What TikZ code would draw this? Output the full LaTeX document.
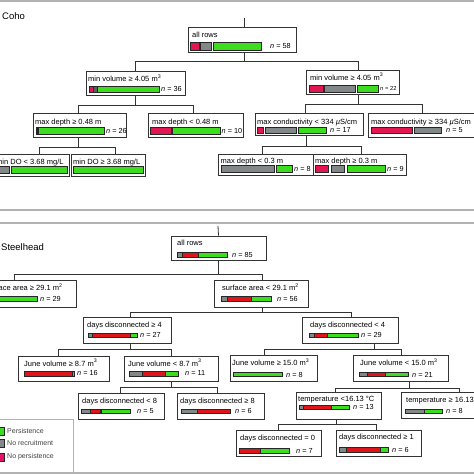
\documentclass[tikz,border=0pt]{standalone}
\usepackage{fontspec}
\setmainfont{Liberation Sans}
\usetikzlibrary{positioning}
\definecolor{cgreen}{RGB}{60,220,30}
\definecolor{cgray}{RGB}{130,135,135}
\definecolor{cpink}{RGB}{226,22,80}
\definecolor{cred}{RGB}{222,22,28}
\tikzset{tbox/.style = {draw=black!80, line width=0.8pt, inner sep=0pt}}
\tikzset{lbl/.style = {anchor=base west, inner sep=0pt, font=\fontsize{7.5}{9}\selectfont}}
\tikzset{cnt/.style = {anchor=base west, inner sep=0pt, font=\fontsize{7.3}{9}\selectfont}}
\tikzset{seg/.style = {draw=black!85, line width=0.5pt}}
\tikzset{edge/.style = {draw=black!80, line width=0.8pt}}
\tikzset{frame/.style = {draw=gray!60, line width=1.4pt}}
\tikzset{title/.style = {anchor=west, inner sep=0pt, font=\fontsize{9.5}{11}\selectfont}}
\tikzset{leg/.style = {anchor=west, inner sep=0pt, text=black!75, font=\fontsize{7}{8}\selectfont}}
\newcommand{\nn}[1]{\textit{n} = #1}

\begin{document}
\begin{tikzpicture}[x=1pt, y=-1pt]
  \useasboundingbox (0,0) rectangle (474,474);

  \draw[frame, line width=2pt] (0,1) -- (474,1);
  \draw[frame] (0,210) -- (474,210);
  \draw[frame] (0,223) -- (474,223);
  \draw[frame, line width=2pt] (0,473) -- (474,473);

  %% Coho tree
  \node[title] (cohoTitle) at (2,16) {Coho};
  \coordinate (cTop) at (244,18);

  \node[tbox, minimum width=108pt, minimum height=25pt] (cRoot) at (242,39.5) {};
  \node[lbl] (cRootL) at (192,37) {all rows};
  \draw[seg, fill=cpink] (190,42) rectangle (199,50);
  \draw[seg, fill=cgray] (200,42) rectangle (211,50);
  \draw[seg, fill=cgreen] (213,42) rectangle (261,50);
  \node[cnt] (cRootN) at (270,48.7) {\nn{58}};

  \node[tbox, minimum width=99pt, minimum height=24pt] (cVolA) at (135.5,83) {};
  \node[lbl] (cVolAL) at (88,81.5) {min volume ≥ 4.05 m\textsuperscript{3}};
  \draw[seg, fill=cpink] (89,86) rectangle (93,92);
  \draw[seg, fill=cgray!70!black] (93,86) rectangle (97,92);
  \draw[seg, fill=cgreen] (97,86) rectangle (159,92);
  \node[cnt] (cVolAN) at (161,91.5) {\nn{36}};

  \node[tbox, minimum width=93pt, minimum height=24pt] (cVolB) at (352.5,82) {};
  \node[lbl] (cVolBL) at (310,80) {min volume ≥ 4.05 m\textsuperscript{3}};
  \draw[seg, fill=cpink] (309,85) rectangle (323,92);
  \draw[seg, fill=cgray] (324,85) rectangle (355,92);
  \draw[seg, fill=cgreen] (357,85) rectangle (378,92);
  \node[cnt, font=\fontsize{5.8}{7}\selectfont] (cVolBN) at (380,90.7) {\nn{22}};

  \node[tbox, minimum width=93pt, minimum height=24pt] (cDepA) at (79.5,125) {};
  \node[lbl] (cDepAL) at (35,124.4) {max depth ≥ 0.48 m};
  \draw[seg, fill=cgray] (36,127) rectangle (37.5,134);
  \draw[seg, fill=cgreen] (38,127) rectangle (104,134);
  \node[cnt] (cDepAN) at (106,133) {\nn{26}};

  \node[tbox, minimum width=95pt, minimum height=24pt] (cDepB) at (195.5,125) {};
  \node[lbl] (cDepBL) at (152,124.4) {max depth < 0.48 m};
  \draw[seg, fill=cpink] (150,127) rectangle (171,134);
  \draw[seg, fill=cgreen] (172,127) rectangle (220,134);
  \node[cnt] (cDepBN) at (221.5,133) {\nn{10}};

  \node[tbox, minimum width=108pt, minimum height=22pt] (cCondA) at (309,124) {};
  \node[lbl] (cCondAL) at (257,124.4) {max conductivity < 334 \textit{µ}S/cm};
  \draw[seg, fill=cpink] (257,127) rectangle (263,133);
  \draw[seg, fill=cgray] (265,127) rectangle (296,133);
  \draw[seg, fill=cgreen] (298,127) rectangle (326,133);
  \node[cnt] (cCondAN) at (330,132.7) {\nn{17}};

  \node[tbox, minimum width=110pt, minimum height=24pt] (cCondB) at (423,125) {};
  \node[lbl] (cCondBL) at (371,124.2) {max conductivity ≥ 334 \textit{µ}S/cm};
  \draw[seg, fill=cpink] (371,127) rectangle (412,133);
  \draw[seg, fill=cgray] (414,127) rectangle (441,133);
  \node[cnt] (cCondBN) at (446,132.7) {\nn{5}};

  \node[tbox, minimum width=95pt, minimum height=21pt] (cShalA) at (265.5,164.5) {};
  \node[lbl] (cShalAL) at (220.5,163.5) {max depth < 0.3 m};
  \draw[seg, fill=cgray] (221,165) rectangle (274,172);
  \draw[seg, fill=cgreen] (276,165) rectangle (292,172);
  \node[cnt] (cShalAN) at (294,171) {\nn{8}};

  \node[tbox, minimum width=93pt, minimum height=21pt] (cShalB) at (359.5,164.5) {};
  \node[lbl] (cShalBL) at (315,163.5) {max depth ≥ 0.3 m};
  \draw[seg, fill=cpink] (315,165) rectangle (328,172);
  \draw[seg, fill=cgray] (331,165) rectangle (344,172);
  \draw[seg, fill=cgreen] (347,165) rectangle (385,172);
  \node[cnt] (cShalBN) at (387,171) {\nn{9}};

  \node[tbox, minimum width=76pt, minimum height=22pt] (cDoA) at (31,165) {};
  \node[lbl] (cDoAL) at (-4,164) {min DO < 3.68 mg/L};
  \draw[seg, fill=cgray] (-3,166) rectangle (9,173);
  \draw[seg, fill=cgreen] (11,166) rectangle (67,173);

  \node[tbox, minimum width=74pt, minimum height=22pt] (cDoB) at (108,165) {};
  \node[lbl] (cDoBL) at (73,164) {min DO ≥ 3.68 mg/L};
  \draw[seg, fill=cgreen] (73,166) rectangle (143,173);

  \draw[edge] (cTop) -- ([xshift=2pt]cRoot.north);
  \draw[edge] ([xshift=2pt]cRoot.south) -- ++(0,9) -| (cVolA.north);
  \draw[edge] ([xshift=2pt]cRoot.south) -- ++(0,9) -| ([xshift=5.5pt]cVolB.north);
  \draw[edge] (cVolA.south) -- ++(0,10) -| ([xshift=-1.5pt]cDepA.north);
  \draw[edge] (cVolA.south) -- ++(0,10) -| ([xshift=-2.5pt]cDepB.north);
  \draw[edge] ([xshift=5.5pt]cVolB.south) -- ++(0,10) -| ([xshift=-4pt]cCondA.north);
  \draw[edge] ([xshift=5.5pt]cVolB.south) -- ++(0,10) -| ([xshift=-1pt]cCondB.north);
  \draw[edge] ([xshift=-1.5pt]cDepA.south) -- ++(0,10) -| ([xshift=8pt]cDoA.north);
  \draw[edge] ([xshift=-1.5pt]cDepA.south) -- ++(0,10) -| ([xshift=7pt]cDoB.north);
  \draw[edge] ([xshift=-3pt]cCondA.south) -- ++(0,11) -| ([xshift=-3.5pt]cShalA.north);
  \draw[edge] ([xshift=-3pt]cCondA.south) -- ++(0,11) -| ([xshift=1.5pt]cShalB.north);

  %% Steelhead tree
  \node[title] (steelTitle) at (1,247) {Steelhead};
  \coordinate (sTop) at (218,226);

  \node[tbox, minimum width=95pt, minimum height=24pt] (sRoot) at (218.5,248) {};
  \node[lbl] (sRootL) at (177,245) {all rows};
  \draw[seg, fill=cgray] (177,252) rectangle (182,257);
  \draw[seg, fill=cred] (182,252) rectangle (198,257);
  \draw[seg, fill=cgreen] (198,252) rectangle (227,257);
  \node[cnt] (sRootN) at (232,257.2) {\nn{85}};

  \node[tbox, minimum width=93pt, minimum height=27pt] (sAreaA) at (29.5,293.5) {};
  \node[lbl] (sAreaAL) at (-14,290.3) {surface area ≥ 29.1 m\textsuperscript{2}};
  \draw[seg, fill=cgreen] (-13,296) rectangle (37,301);
  \node[cnt] (sAreaAN) at (40,301.7) {\nn{29}};

  \node[tbox, minimum width=94pt, minimum height=27pt] (sAreaB) at (261,293.5) {};
  \node[lbl] (sAreaBL) at (222,290.3) {surface area < 29.1 m\textsuperscript{2}};
  \draw[seg, fill=cgray] (221,296) rectangle (227,301);
  \draw[seg, fill=cred] (227,296) rectangle (251,301);
  \draw[seg, fill=cgreen] (251,296) rectangle (271,301);
  \node[cnt] (sAreaBN) at (277,301.7) {\nn{56}};

  \node[tbox, minimum width=88pt, minimum height=26pt] (sDaysA) at (127,330) {};
  \node[lbl] (sDaysAL) at (87,327.5) {days disconnected ≥ 4};
  \draw[seg, fill=cgray] (88,333) rectangle (92,337.5);
  \draw[seg, fill=cred] (92,333) rectangle (130,337.5);
  \draw[seg, fill=cgreen] (130,333) rectangle (137,337.5);
  \node[cnt] (sDaysAN) at (140,337.7) {\nn{27}};

  \node[tbox, minimum width=96pt, minimum height=26pt] (sDaysB) at (350,330) {};
  \node[lbl] (sDaysBL) at (310,327.5) {days disconnected < 4};
  \draw[seg, fill=cgray] (309,333) rectangle (314,337.5);
  \draw[seg, fill=cred] (314,333) rectangle (327,337.5);
  \draw[seg, fill=cgreen] (327,333) rectangle (358,337.5);
  \node[cnt] (sDaysBN) at (361,337.7) {\nn{29}};

  \node[tbox, minimum width=91pt, minimum height=25pt] (sJuneA) at (63.5,368.5) {};
  \node[lbl] (sJuneAL) at (24,366) {June volume ≥ 8.7 m\textsuperscript{3}};
  \draw[seg, fill=cred] (24,371) rectangle (72,376);
  \draw[seg, fill=cgreen] (72,371) rectangle (74,376);
  \node[cnt] (sJuneAN) at (77,375.7) {\nn{16}};

  \node[tbox, minimum width=94pt, minimum height=25pt] (sJuneB) at (171,368.5) {};
  \node[lbl] (sJuneBL) at (128,366) {June volume < 8.7 m\textsuperscript{3}};
  \draw[seg, fill=cgray] (129,371) rectangle (142,376);
  \draw[seg, fill=cred] (142,371) rectangle (165,376);
  \draw[seg, fill=cgreen] (165,371) rectangle (178,376);
  \node[cnt] (sJuneBN) at (185,375.7) {\nn{11}};

  \node[tbox, minimum width=87pt, minimum height=26pt] (sJuneC) at (273.5,368) {};
  \node[lbl] (sJuneCL) at (232,365.5) {June volume ≥ 15.0 m\textsuperscript{3}};
  \draw[seg, fill=cgreen] (233,372) rectangle (282,376.5);
  \node[cnt] (sJuneCN) at (286,377) {\nn{8}};

  \node[tbox, minimum width=95pt, minimum height=26pt] (sJuneD) at (400.5,368) {};
  \node[lbl] (sJuneDL) at (360,365.5) {June volume < 15.0 m\textsuperscript{3}};
  \draw[seg, fill=cgray] (359,372) rectangle (367,376.5);
  \draw[seg, fill=cred] (367,372) rectangle (385,376.5);
  \draw[seg, fill=cgreen] (385,372) rectangle (408,376.5);
  \node[cnt] (sJuneDN) at (412,377) {\nn{21}};

  \node[tbox, minimum width=86pt, minimum height=26pt] (sDaysC) at (121,406) {};
  \node[lbl] (sDaysCL) at (82,403) {days disconnected < 8};
  \draw[seg, fill=cgray] (81,409) rectangle (90,413);
  \draw[seg, fill=cred] (90,409) rectangle (100,413);
  \draw[seg, fill=cgreen] (101,409) rectangle (130,413);
  \node[cnt] (sDaysCN) at (137,413.7) {\nn{5}};

  \node[tbox, minimum width=87pt, minimum height=26pt] (sDaysD) at (220.5,406) {};
  \node[lbl] (sDaysDL) at (180,403) {days disconnected ≥ 8};
  \draw[seg, fill=cgray] (181,409) rectangle (197,413);
  \draw[seg, fill=cred] (197,409) rectangle (230,413);
  \node[cnt] (sDaysDN) at (235,413.7) {\nn{6}};

  \node[tbox, minimum width=85pt, minimum height=27pt] (sTempA) at (338.5,405.5) {};
  \node[lbl] (sTempAL) at (298,401) {temperature <16.13 °C};
  \draw[seg, fill=cgray] (299,405) rectangle (303,409);
  \draw[seg, fill=cred] (303,405) rectangle (331,409);
  \draw[seg, fill=cgreen] (331,405) rectangle (349,409);
  \node[cnt] (sTempAN) at (353,409.7) {\nn{13}};

  \node[tbox, minimum width=119pt, minimum height=26pt] (sTempB) at (460.5,405) {};
  \node[lbl] (sTempBL) at (406,402) {temperature ≥ 16.13 °C};
  \draw[seg, fill=cgray] (405,409) rectangle (424,413);
  \draw[seg, fill=cgreen] (424,409) rectangle (442,413);
  \node[cnt] (sTempBN) at (446,413.5) {\nn{8}};

  \node[tbox, minimum width=85pt, minimum height=26pt] (sDaysE) at (278.5,443) {};
  \node[lbl] (sDaysEL) at (240,440) {days disconnected = 0};
  \draw[seg, fill=cred] (239,448) rectangle (260,453);
  \draw[seg, fill=cgreen] (260,448) rectangle (289,453);
  \node[cnt] (sDaysEN) at (296,453) {\nn{7}};

  \node[tbox, minimum width=85pt, minimum height=26pt] (sDaysF) at (378.5,443) {};
  \node[lbl] (sDaysFL) at (339,439) {days disconnected ≥ 1};
  \draw[seg, fill=cgray] (339,447) rectangle (346,452);
  \draw[seg, fill=cred] (346,447) rectangle (380,452);
  \draw[seg, fill=cgreen] (380,447) rectangle (388,452);
  \node[cnt] (sDaysFN) at (392,452) {\nn{6}};

  \draw[edge] (sTop) -- (sRoot.north);
  \draw[edge] (sRoot.south) -- ++(0,14) -| ([xshift=-15.5pt]sAreaA.north);
  \draw[edge] (sRoot.south) -- ++(0,14) -| ([xshift=1pt]sAreaB.north);
  \draw[edge] ([xshift=1pt]sAreaB.south) -- ++(0,5) -| ([xshift=3pt]sDaysA.north);
  \draw[edge] ([xshift=1pt]sAreaB.south) -- ++(0,5) -| ([xshift=1pt]sDaysB.north);
  \draw[edge] ([xshift=3pt]sDaysA.south) -- ++(0,6) -| ([xshift=-5.5pt]sJuneA.north);
  \draw[edge] ([xshift=3pt]sDaysA.south) -- ++(0,6) -| (sJuneB.north);
  \draw[edge] ([xshift=24pt]sDaysB.south) -- ++(0,6) -| ([xshift=-9.5pt]sJuneC.north);
  \draw[edge] ([xshift=24pt]sDaysB.south) -- ++(0,6) -| ([xshift=0.5pt]sJuneD.north);
  \draw[edge] (sJuneB.south) -- ++(0,6) -| ([xshift=-1pt]sDaysC.north);
  \draw[edge] (sJuneB.south) -- ++(0,6) -| ([xshift=-3.5pt]sDaysD.north);
  \draw[edge] ([xshift=8.5pt]sJuneD.south) -- ++(0,7) -| ([xshift=-3.5pt]sTempA.north);
  \draw[edge] ([xshift=8.5pt]sJuneD.south) -- ++(0,7) -| ([xshift=-1.5pt]sTempB.north);
  \draw[edge] ([xshift=-2.5pt]sTempA.south) -- ++(0,5) -| ([xshift=-0.5pt]sDaysE.north);
  \draw[edge] ([xshift=-2.5pt]sTempA.south) -- ++(0,5) -| ([xshift=-2.5pt]sDaysF.north);

  %% legend
  \node[draw=gray!60, line width=0.9pt, minimum width=80pt, minimum height=62pt] (legend) at (33,450) {};
  \draw[seg, fill=cgreen] (-4,427) rectangle (4,435);
  \draw[seg, fill=cgray] (-4,439) rectangle (4,447);
  \draw[seg, fill=cpink!85!magenta] (-4,453) rectangle (4,461);
  \node[leg] (legPers) at (7,431) {Persistence};
  \node[leg] (legRecr) at (7,443) {No recruitment};
  \node[leg] (legNone) at (7,457) {No persistence};
\end{tikzpicture}
\end{document}
